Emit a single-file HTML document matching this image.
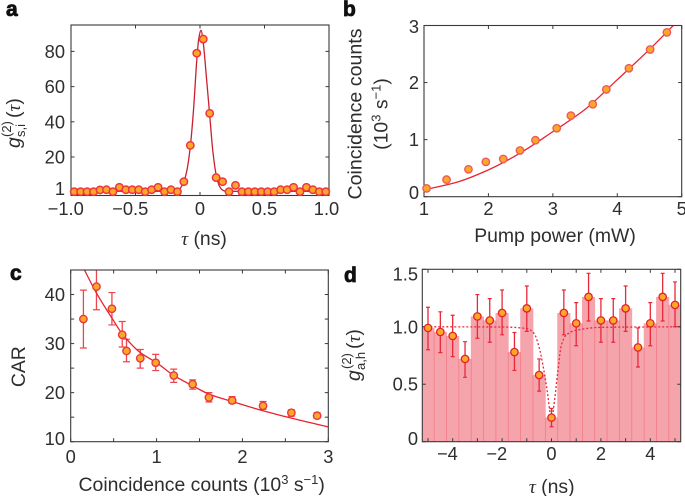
<!DOCTYPE html>
<html lang="en">
<head>
<meta charset="utf-8">
<title>Four-panel photon correlation figure</title>
<style>
html,body{margin:0;padding:0;background:#fff;}
svg{display:block;}
text{font-family:"Liberation Sans",sans-serif;fill:#2e2e2e;}
.tick{font-size:18.3px;}
.title{font-size:19.4px;}
.letter{font-size:21px;font-weight:bold;fill:#111;stroke:#111;stroke-width:.8px;}
.tau{font-family:"Liberation Serif",serif;font-style:italic;}
.gee{font-style:italic;}
.small{font-size:13px;}
</style>
</head>
<body>
<svg id="figure" xmlns="http://www.w3.org/2000/svg" width="685" height="496" viewBox="0 0 685 496">
  <defs>
    <clipPath id="clip-a"><rect x="71" y="25" width="258" height="170.5"/></clipPath>
    <clipPath id="clip-b"><rect x="424" y="25.5" width="257.7" height="171.2"/></clipPath>
    <clipPath id="clip-c"><rect x="70.7" y="270" width="257.6" height="171.7"/></clipPath>
    <clipPath id="clip-d"><rect x="422.3" y="269.3" width="258.4" height="172.4"/></clipPath>
  </defs>

  <text class="letter" x="6" y="16">a</text>
  <text class="letter" x="343" y="16">b</text>
  <text class="letter" x="10" y="280">c</text>
  <text class="letter" x="344" y="282">d</text>

  <g id="panel-a"></g>
  <g id="panel-b"></g>
  <g id="panel-c"></g>
  <g id="panel-d"></g>

  <text class="title" x="204" y="245" text-anchor="middle"><tspan class="tau">τ</tspan> (ns)</text>
  <g transform="translate(20,148) rotate(-90)">
    <text class="title gee" x="0" y="0">g</text>
    <text class="small" x="11" y="-9">(2)</text>
    <text class="small" x="11" y="5">s,i</text>
    <text class="title" x="30" y="0">(<tspan class="tau">τ</tspan>)</text>
  </g>

  <text class="title" x="555" y="242" text-anchor="middle">Pump power (mW)</text>
  <text class="title" transform="translate(361.5,114) rotate(-90)" text-anchor="middle" style="font-size:19.6px">Coincidence counts</text>
  <text class="title" transform="translate(387.5,114) rotate(-90)" text-anchor="middle">(10<tspan class="small" dy="-7">3</tspan><tspan dy="7"> s</tspan><tspan class="small" dy="-7">−1</tspan><tspan dy="7">)</tspan></text>

  <text class="title" x="201.7" y="491" text-anchor="middle">Coincidence counts (10<tspan class="small" dy="-7">3</tspan><tspan dy="7"> s</tspan><tspan class="small" dy="-7">−1</tspan><tspan dy="7">)</tspan></text>
  <text class="title" transform="translate(25,366.7) rotate(-90)" text-anchor="middle">CAR</text>

  <text class="title" x="551.7" y="493" text-anchor="middle"><tspan class="tau">τ</tspan> (ns)</text>
  <g transform="translate(360,381) rotate(-90)">
    <text class="title gee" x="0" y="0">g</text>
    <text class="small" x="12" y="-9">(2)</text>
    <text class="small" x="11" y="5">a,h</text>
    <text class="title" x="32" y="0">(<tspan class="tau">τ</tspan>)</text>
  </g>
</svg>

<script>
// ---------- Panel a ----------
const aTau = [-0.975,-0.925,-0.875,-0.825,-0.775,-0.725,-0.675,-0.625,-0.575,-0.525,-0.475,-0.425,-0.375,-0.325,-0.275,-0.225,-0.175,-0.125,-0.075,-0.025,0.025,0.075,0.125,0.175,0.225,0.275,0.325,0.375,0.425,0.475,0.525,0.575,0.625,0.675,0.725,0.775,0.825,0.875,0.925,0.975];
const aG2 = [0.3,0.3,0.3,0.3,1.3,1.4,0.3,2.8,1.4,1.4,1.4,0.3,1.4,2.8,0.3,1.4,0.3,6,26.6,79,87,44.8,8.3,6,0.3,3.9,0.3,0.3,0.3,0.3,0.3,0.3,1.4,1.4,2.8,0.3,2.8,1.4,0.3,0.3];
const aFitTau = [-1,-0.2,-0.17,-0.15,-0.125,-0.1,-0.075,-0.05,-0.025,-0.01,0.008,0.025,0.05,0.075,0.1,0.125,0.15,0.175,0.2,1];
const aFitG2 = [0.5,0.5,0.9,2.5,6,13,26,47,75,87,92,85,65,44,23,10,3.5,1.2,0.5,0.5];
const aXTicks = [-1,-0.5,0,0.5,1];
const aXTickLabels = ['−1.0','−0.5','0','0.5','1.0'];
const aYTicks = [1,20,40,60,80];
const aYTickLabels = ['1','20','40','60','80'];

// ---------- Panel b ----------
const bPower = [1.04,1.35,1.69,1.96,2.23,2.49,2.73,3.06,3.28,3.62,3.83,4.18,4.51,4.77];
const bCounts = [0.146,0.30,0.48,0.61,0.66,0.81,0.99,1.20,1.42,1.62,1.88,2.25,2.58,2.88];
const bFitPower = [1,1.5,2,2.5,3,3.5,4,4.5,4.87];
const bFitCounts = [0.12,0.25,0.47,0.77,1.14,1.53,2.05,2.58,3.0];
const bXTicks = [1,2,3,4,5];
const bXTickLabels = ['1','2','3','4','5'];
const bYTicks = [0,1,2,3];
const bYTickLabels = ['0','1','2','3'];

// ---------- Panel c ----------
const cCounts = [0.148,0.30,0.48,0.60,0.65,0.81,0.99,1.20,1.42,1.61,1.88,2.24,2.57,2.87];
const cCar = [35,41.6,37.1,31.8,28.5,27,26.1,23.5,21.7,19,18.4,17.3,15.9,15.3];
const cCarHigh = [40.9,46.3,40.4,34.5,30.9,28.8,27.8,24.8,22.6,20,19.2,18.2,16.5,15.9];
const cCarLow = [29.1,36.9,33.8,29.3,26.3,25,24.5,22.1,20.7,18.1,17.8,16.6,15.2,14.8];
const cFitCounts = [0.16,0.3,0.48,0.6,0.8,1,1.2,1.42,1.61,1.88,2.24,2.57,3];
const cFitCar = [45,40.3,35.2,32,28.3,26.1,23.5,21.4,19.7,18.2,16.3,14.8,13];
const cXTicks = [0,1,2,3];
const cXTickLabels = ['0','1','2','3'];
const cXMinorTicks = [0.5,1.5,2.5];
const cYTicks = [10,20,30,40];
const cYTickLabels = ['10','20','30','40'];
const cYMinorTicks = [15,25,35];

// ---------- Panel d ----------
const dTau = [-5,-4.5,-4,-3.5,-3,-2.5,-2,-1.5,-1,-0.5,0,0.5,1,1.5,2,2.5,3,3.5,4,4.5,5];
const dG2 = [0.99,0.955,0.92,0.72,1.09,1.055,1.12,0.78,1.16,0.58,0.21,1.12,1.03,1.26,1.055,1.055,1.16,0.82,1.03,1.26,1.19];
const dG2High = [1.17,1.13,1.10,0.87,1.28,1.245,1.32,0.95,1.355,0.72,0.29,1.32,1.21,1.465,1.245,1.245,1.355,0.99,1.21,1.465,1.39];
const dG2Low = [0.80,0.775,0.74,0.56,0.90,0.865,0.93,0.62,0.96,0.44,0.13,0.93,0.835,1.05,0.865,0.865,0.96,0.65,0.835,1.05,1.0];
const dFitTau = [-5.23,-2,-1,-0.7,-0.5,-0.35,-0.16,-0.05,0,0.1,0.25,0.4,0.6,1,2,5.23];
const dFitG2 = [1,0.998,0.985,0.94,0.82,0.67,0.42,0.24,0.2,0.32,0.6,0.84,0.93,0.97,0.995,1];
const dXTicks = [-4,-2,0,2,4];
const dXTickLabels = ['−4','−2','0','2','4'];
const dXMinorTicks = [-5,-3,-1,1,3,5];
const dYTicks = [0,0.5,1,1.5];
const dYTickLabels = ['0','0.5','1.0','1.5'];

const NS = 'http://www.w3.org/2000/svg';

function svgEl(parent, tag, attrs, name) {
  const el = document.createElementNS(NS, tag);
  for (const k in attrs) el.setAttribute(k, attrs[k]);
  
  
  parent.appendChild(el);
  return el;
}

function linearScale(d0, d1, r0, r1) {
  return function (v) { return r0 + (v - d0) * (r1 - r0) / (d1 - d0); };
}

// Monotone cubic path through data points, in pixel space.
function monotonePath(xs, ys) {
  const n = xs.length, d = [], m = [];
  for (let i = 0; i < n - 1; i++) d.push((ys[i + 1] - ys[i]) / (xs[i + 1] - xs[i]));
  m.push(d[0]);
  for (let i = 1; i < n - 1; i++) m.push(d[i - 1] * d[i] <= 0 ? 0 : 2 / (1 / d[i - 1] + 1 / d[i]));
  m.push(d[n - 2]);
  let p = 'M' + xs[0].toFixed(2) + ' ' + ys[0].toFixed(2);
  for (let i = 0; i < n - 1; i++) {
    const h = (xs[i + 1] - xs[i]) / 3;
    p += 'C' + (xs[i] + h).toFixed(2) + ' ' + (ys[i] + m[i] * h).toFixed(2) + ' ' +
      (xs[i + 1] - h).toFixed(2) + ' ' + (ys[i + 1] - m[i + 1] * h).toFixed(2) + ' ' +
      xs[i + 1].toFixed(2) + ' ' + ys[i + 1].toFixed(2);
  }
  return p;
}

function drawFrame(g, box) {
  svgEl(g, 'rect', {x: box.l, y: box.t, width: box.r - box.l, height: box.b - box.t, fill: 'none', stroke: '#3a3a3a', 'stroke-width': 1.1}, 'plot-frame');
}

function drawTicks(g, box, sx, sy, xt, yt, len) {
  xt.forEach(function (v) {
    svgEl(g, 'line', {x1: sx(v), x2: sx(v), y1: box.b, y2: box.b - len, stroke: '#3a3a3a', 'stroke-width': 1}, 'x-tick');
    svgEl(g, 'line', {x1: sx(v), x2: sx(v), y1: box.t, y2: box.t + len, stroke: '#3a3a3a', 'stroke-width': 1}, 'x-tick-top');
  });
  yt.forEach(function (v) {
    svgEl(g, 'line', {x1: box.l, x2: box.l + len, y1: sy(v), y2: sy(v), stroke: '#3a3a3a', 'stroke-width': 1}, 'y-tick');
    svgEl(g, 'line', {x1: box.r, x2: box.r - len, y1: sy(v), y2: sy(v), stroke: '#3a3a3a', 'stroke-width': 1}, 'y-tick-right');
  });
}

// Digits sit centred under the tick; a leading minus sign hangs to the left.
function drawXLabels(g, ticks, labels, sx, y, shiftLast) {
  ticks.forEach(function (v, i) {
    const hang = labels[i].charAt(0) === '−' ? -5.3 : 0;
    const t = svgEl(g, 'text', {class: 'tick', x: sx(v) + hang + (i === ticks.length - 1 ? shiftLast : 0), y: y, 'text-anchor': 'middle'}, 'x-tick-label');
    t.textContent = labels[i];
  });
}

function drawYLabels(g, ticks, labels, sy, x, dyFor) {
  ticks.forEach(function (v, i) {
    const t = svgEl(g, 'text', {class: 'tick', x: x, y: sy(v) + dyFor(i), 'text-anchor': 'end'}, 'y-tick-label');
    t.textContent = labels[i];
  });
}

function drawCurve(g, xs, ys, sx, sy, clip, stroke, width, dash, name) {
  const attrs = {d: monotonePath(xs.map(sx), ys.map(sy)), fill: 'none', stroke: stroke, 'stroke-width': width, 'clip-path': 'url(#' + clip + ')'};
  if (dash) attrs['stroke-dasharray'] = dash;
  svgEl(g, 'path', attrs, name);
}

function drawErrors(g, xs, hi, lo, sx, sy, clip, cap, stroke) {
  const eg = svgEl(g, 'g', {'clip-path': 'url(#' + clip + ')'}, 'error-bars');
  xs.forEach(function (v, i) {
    const x = sx(v);
    svgEl(eg, 'line', {x1: x, x2: x, y1: sy(hi[i]), y2: sy(lo[i]), stroke: stroke, 'stroke-width': 1.3}, 'error-bar');
    svgEl(eg, 'line', {x1: x - cap, x2: x + cap, y1: sy(hi[i]), y2: sy(hi[i]), stroke: stroke, 'stroke-width': 1.2}, 'error-cap-high');
    svgEl(eg, 'line', {x1: x - cap, x2: x + cap, y1: sy(lo[i]), y2: sy(lo[i]), stroke: stroke, 'stroke-width': 1.2}, 'error-cap-low');
  });
}

function drawPoints(g, xs, ys, sx, sy, r, stroke, sw) {
  xs.forEach(function (v, i) {
    svgEl(g, 'circle', {cx: sx(v), cy: sy(ys[i]), r: r, fill: '#fba826', stroke: stroke, 'stroke-width': sw}, 'data-point');
  });
}

// Panel a
(function () {
  const g = document.getElementById('panel-a');
  const box = {l: 71, r: 329, t: 25, b: 195.5};
  const sx = linearScale(-1, 1, box.l, box.r);
  const sy = linearScale(0, 80, 192.2, 51.4);
  drawCurve(g, aFitTau, aFitG2, sx, sy, 'clip-a', '#c9202f', 1.3, null, 'fit-curve');
  drawFrame(g, box);
  drawTicks(g, box, sx, sy, aXTicks, aYTicks.slice(1), 3.5);
  drawPoints(g, aTau, aG2, sx, sy, 3.7, '#f0343e', 1.5);
  drawXLabels(g, aXTicks, aXTickLabels, sx, 215, -2.5);
  drawYLabels(g, aYTicks, aYTickLabels, sy, 65, function (i) { return i === 0 ? 4.5 : 6.5; });
})();

// Panel b
(function () {
  const g = document.getElementById('panel-b');
  const box = {l: 424, r: 681.7, t: 25.5, b: 196.7};
  const sx = linearScale(1, 5, box.l, box.r);
  const sy = linearScale(0, 3, box.b, box.t);
  drawCurve(g, bFitPower, bFitCounts, sx, sy, 'clip-b', '#e8242f', 1.3, null, 'fit-curve');
  drawFrame(g, box);
  drawTicks(g, box, sx, sy, bXTicks, bYTicks, 3.5);
  drawPoints(g, bPower, bCounts, sx, sy, 3.7, '#ee5a5c', 1.4);
  drawXLabels(g, bXTicks, bXTickLabels, sx, 215, 0);
  drawYLabels(g, bYTicks, bYTickLabels, sy, 419, function (i) { return i === 0 ? 2.5 : (i === 3 ? 7.5 : 6.5); });
})();

// Panel c
(function () {
  const g = document.getElementById('panel-c');
  const box = {l: 70.7, r: 328.3, t: 270, b: 441.7};
  const sx = linearScale(0, 3, box.l, box.r);
  const sy = linearScale(10, 45, box.b, box.t);
  drawErrors(g, cCounts, cCarHigh, cCarLow, sx, sy, 'clip-c', 3.5, '#ee4450');
  drawCurve(g, cFitCounts, cFitCar, sx, sy, 'clip-c', '#e8242f', 1.3, null, 'fit-curve');
  drawFrame(g, box);
  drawTicks(g, box, sx, sy, cXTicks.concat(cXMinorTicks), cYTicks.concat(cYMinorTicks), 3.5);
  drawPoints(g, cCounts, cCar, sx, sy, 3.7, '#e8383f', 1.4);
  drawXLabels(g, cXTicks, cXTickLabels, sx, 463, 0);
  drawYLabels(g, cYTicks, cYTickLabels, sy, 65, function (i) { return i === 0 ? 3.5 : 6.5; });
})();

// Panel d
(function () {
  const g = document.getElementById('panel-d');
  const box = {l: 422.3, r: 680.7, t: 269.3, b: 441.7};
  const sx = linearScale(-5.23, 5.23, box.l, box.r);
  const sy = linearScale(0, 1.5, box.b, box.t);
  const bars = svgEl(g, 'g', {'clip-path': 'url(#clip-d)'}, 'histogram-bars');
  dTau.forEach(function (v, i) {
    svgEl(bars, 'rect', {x: sx(v - 0.25) - 0.4, y: sy(dG2[i]), width: sx(v + 0.25) - sx(v - 0.25) + 0.8, height: box.b - sy(dG2[i]), fill: '#ee5a68', 'fill-opacity': 0.55}, 'histogram-bar');
  });
  drawCurve(g, dFitTau, dFitG2, sx, sy, 'clip-d', '#e8283a', 1.3, '2 2', 'fit-curve-dashed');
  drawFrame(g, box);
  drawTicks(g, box, sx, sy, dXTicks.concat(dXMinorTicks), dYTicks, 3.5);
  drawErrors(g, dTau, dG2High, dG2Low, sx, sy, 'clip-d', 2, '#e8283a');
  drawPoints(g, dTau, dG2, sx, sy, 3.7, '#e3202c', 1.3);
  drawXLabels(g, dXTicks, dXTickLabels, sx, 460, 0);
  drawYLabels(g, dYTicks, dYTickLabels, sy, 418, function (i) { return i === 0 ? 3.5 : (i === 3 ? 11 : 6.5); });
})();
</script>
</body>
</html>
